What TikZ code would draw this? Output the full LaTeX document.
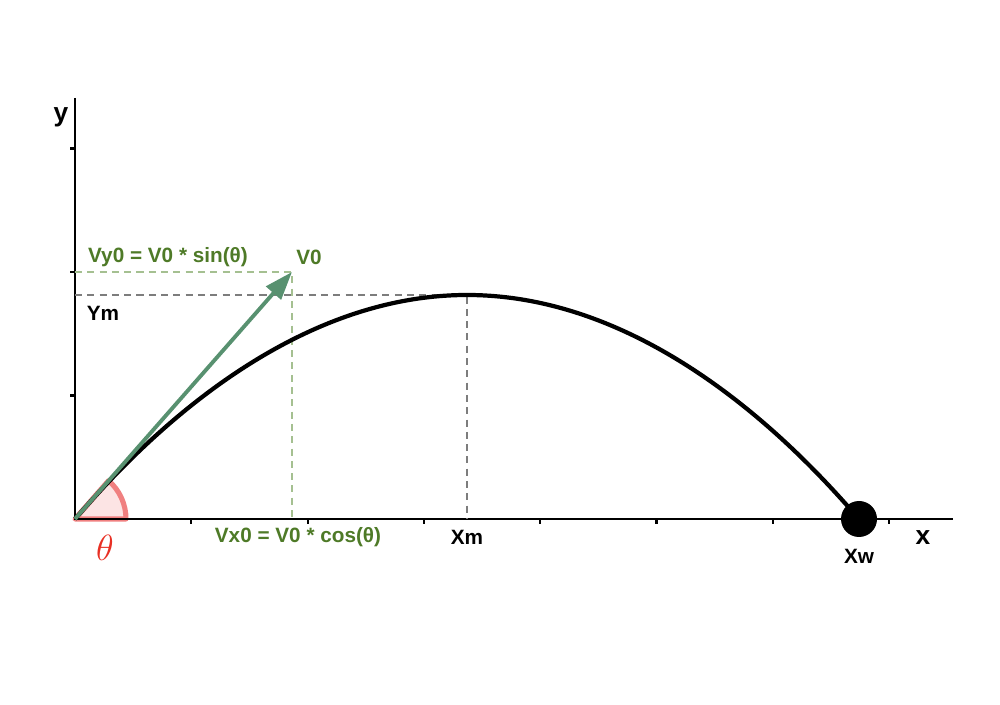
\documentclass[tikz,border=0pt]{standalone}
\usepackage{fontspec}
\setmainfont{Liberation Sans}
\usetikzlibrary{arrows.meta, positioning}

\definecolor{textgreen}{RGB}{78,122,39}
\definecolor{arrowgreen}{RGB}{88,145,112}
\definecolor{guidegreen}{RGB}{165,192,145}
\definecolor{guidegray}{RGB}{125,125,125}
\definecolor{wedgeline}{RGB}{240,128,128}
\definecolor{wedgefill}{RGB}{252,228,228}
\definecolor{thetared}{RGB}{232,48,36}

\begin{document}
\begin{tikzpicture}[x=0.02cm, y=0.02cm,
		axis/.style={line width=1.1pt},
		tick/.style={line width=1.2pt},
		guide/.style={line width=0.7pt, dash pattern=on 4pt off 3pt},
		traj/.style={line width=2.4pt},
		lbl/.style={font=\bfseries\fontsize{11.8}{14}\selectfont, inner sep=0pt},
		greenlbl/.style={lbl, text=textgreen},
		axlbl/.style={font=\bfseries\fontsize{15}{17}\selectfont, inner sep=0pt}]
		\useasboundingbox (-75,-186) rectangle (925,519);

		\coordinate (O) at (0,0);
		\coordinate (ytop) at (0,421);
		\coordinate (xend) at (878,0);
		\coordinate (v0) at (217,247);
		\coordinate (vy) at (0,247);
		\coordinate (vx) at (217,0);
		\coordinate (top) at (392,224);
		\coordinate (ym) at (0,224);
		\coordinate (xm) at (392,0);
		\coordinate (land) at (784,0);

		% angle
		\fill [wedgefill] (O) -- (51,0) arc [start angle=0, end angle=48.8, radius=51] -- cycle;
		\draw [wedgeline, line width=2.9pt, line join=round] (O) -- (51,0) arc [start angle=0, end angle=48.8, radius=51] -- cycle;

		% axes
		\draw [axis] (ytop) -- (O) -- (xend);
		\foreach \i in {1,...,7}
			\draw [tick] (\i*116.3,0) -- (\i*116.3,-5);
		\foreach \j in {1,2,3}
			\draw [tick] (0,\j*123.5) -- (-5,\j*123.5);

		% guides
		\draw [guide, guidegreen] (vy) -- (v0) -- (vx);
		\draw [guide, guidegray] (ym) -- (top) -- (xm);

		% trajectory
		\draw [traj] (O) parabola bend (top) (land);
		\node (ball) [circle, fill, inner sep=0pt, minimum size=0.72cm] at (land) {};

		\draw [arrowgreen, line width=2.2pt, -{Triangle[length=16pt, width=11pt]}] (O) -- (v0);

		% labels
		\node (vylbl) [greenlbl] at (93,262) {Vy0 = V0 * sin(θ)};
		\node (v0lbl) [greenlbl] at (234,262) {V0};
		\node (ymlbl) [lbl] at (28,206) {Ym};
		\node (vxlbl) [greenlbl] at (223,-18) {Vx0 = V0 * cos(θ)};
		\node (xmlbl) [lbl] at (392,-18) {Xm};
		\node (xwlbl) [lbl] at (784,-37) {Xw};
		\node (xlbl) [axlbl] at (848,-19) {x};
		\node (ylbl) [axlbl] at (-14,402) {y};
		\node (theta) [text=thetared, font=\fontsize{22}{24}\selectfont] at (30,-29) {$\theta$};
	\end{tikzpicture}
\end{document}
